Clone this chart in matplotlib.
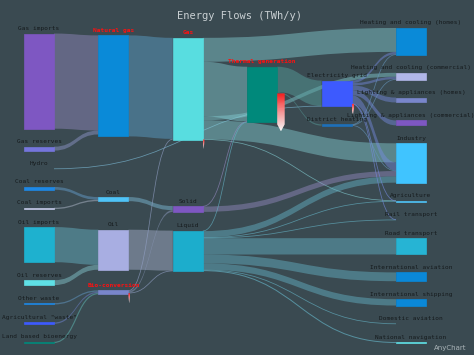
import numpy as np
import matplotlib.pyplot as plt
import matplotlib.colors as mcolors
from matplotlib.path import Path
from matplotlib.patches import PathPatch, Rectangle, Polygon

# ---- data (TWh/y) ----
node_names = [
    "Gas imports", "Gas reserves", "Hydro", "Coal reserves", "Coal imports",
    "Oil imports", "Oil reserves", "Other waste", 'Agricultural "waste"',
    "Land based bioenergy",
    "Natural gas", "Coal", "Oil", "Bio-conversion",
    "Gas", "Solid", "Liquid",
    "Thermal generation",
    "Electricity grid", "District heating",
    "Heating and cooling (homes)", "Heating and cooling (commercial)",
    "Lighting & appliances (homes)", "Lighting & appliances (commercial)",
    "Industry", "Agriculture", "Rail transport", "Road transport",
    "International aviation", "International shipping",
    "Domestic aviation", "National navigation",
]
node_colors = [
    "#7e57c2", "#7575dc", "#4fc3f7", "#1e88e5", "#c5cae9",
    "#1eb1cf", "#5fe0e6", "#1e88e5", "#3d5afe",
    "#00897b",
    "#0a8ad8", "#4fc3f7", "#a8aee2", "#7986cb",
    "#58dde0", "#7e57c2", "#1cadcc",
    "#00897b",
    "#3d5afe", "#1e6fb8",
    "#0a8ad8", "#b0b6e8",
    "#7986cb", "#7e57c2",
    "#40c4ff", "#4fc3f7", "#00897b", "#26b4d4",
    "#0a88d8", "#0a88d8",
    "#3d5afe", "#5fe0e6",
]
red_labels = ["Natural gas", "Gas", "Thermal generation", "Bio-conversion"]

flow_from = [
    "Gas imports", "Gas reserves", "Coal reserves", "Coal imports",
    "Oil imports", "Oil reserves", "Other waste", 'Agricultural "waste"',
    "Land based bioenergy", "Hydro",
    "Natural gas", "Coal", "Oil",
    "Bio-conversion", "Bio-conversion", "Bio-conversion",
    "Gas", "Gas", "Gas", "Gas", "Gas",
    "Solid", "Solid",
    "Liquid", "Liquid", "Liquid", "Liquid", "Liquid", "Liquid", "Liquid",
    "Liquid", "Liquid",
    "Thermal generation", "Thermal generation",
    "Electricity grid", "Electricity grid", "Electricity grid",
    "Electricity grid", "Electricity grid", "Electricity grid",
    "Electricity grid",
    "District heating", "District heating", "District heating",
]
flow_to = [
    "Natural gas", "Natural gas", "Coal", "Coal",
    "Oil", "Oil", "Bio-conversion", "Bio-conversion",
    "Bio-conversion", "Electricity grid",
    "Gas", "Solid", "Liquid",
    "Gas", "Solid", "Liquid",
    "Heating and cooling (homes)", "Thermal generation",
    "Heating and cooling (commercial)", "Industry", "Agriculture",
    "Thermal generation", "Industry",
    "Thermal generation", "Industry", "Agriculture", "Rail transport",
    "Road transport", "International aviation", "International shipping",
    "Domestic aviation", "National navigation",
    "Electricity grid", "District heating",
    "Heating and cooling (homes)", "Heating and cooling (commercial)",
    "Lighting & appliances (homes)", "Lighting & appliances (commercial)",
    "Industry", "Agriculture", "Rail transport",
    "Heating and cooling (homes)", "Heating and cooling (commercial)",
    "Industry",
]
flow_value = [
    975, 40, 28, 14,
    360, 50, 14, 14,
    12, 4,
    1035, 42, 410,
    7, 18, 5,
    245, 560, 40, 195, 2,
    5, 55,
    5, 64, 5, 4, 167, 90, 65, 5, 10,
    260, 13,
    25, 25, 50, 50, 85, 2, 2,
    5, 4, 4,
]
dropoff_node = ["Bio-conversion", "Gas", "Thermal generation", "Electricity grid"]
dropoff_value = [10, 5, 297, 25]

# ---- geometry (pixels of the 474x355 output) ----
BG = "#3a4a51"
W, H = 474, 355
COL_LEFT, COL_STEP, NODE_W = 24, 74.4, 30
TOP, SPAN, PAD = 28, 315, 18
LEFT_WEIGHT = 2.2   # incoming links pull harder than outgoing ones


def mix(c, other="#b0bec5", t=0.5):
    a = np.array(mcolors.to_rgb(c))
    b = np.array(mcolors.to_rgb(other))
    return tuple(a * (1 - t) + b * t)


color = dict(zip(node_names, node_colors))
links = list(zip(flow_from, flow_to, flow_value))
drops = dict(zip(dropoff_node, dropoff_value))

out_links = {n: [l for l in links if l[0] == n] for n in node_names}
in_links = {n: [l for l in links if l[1] == n] for n in node_names}

# columns: longest path from the sources, sinks pushed to the right
col = {}


def depth(n):
    if n not in col:
        col[n] = 0 if not in_links[n] else max(depth(l[0]) for l in in_links[n]) + 1
    return col[n]


for n in node_names:
    depth(n)
ncol = max(col.values()) + 1
for n in node_names:
    if not out_links[n] and n not in drops:
        col[n] = ncol - 1

value = {}
for n in node_names:
    vin = sum(l[2] for l in in_links[n])
    vout = sum(l[2] for l in out_links[n]) + drops.get(n, 0)
    value[n] = max(vin, vout)

columns = [[n for n in node_names if col[n] == c] for c in range(ncol)]
ky = min((SPAN - (len(c) - 1) * PAD) / sum(value[n] for n in c) for c in columns)
pad_v = PAD / ky
span_v = SPAN / ky

# ---- layout: nodes move to where their links run level, then collisions ----
y0 = {}
for c in columns:
    yy = 0
    for n in c:
        y0[n] = yy
        yy += value[n] + pad_v


def center(n):
    return y0[n] + value[n] / 2


def offsets():
    so, to = {}, {}
    for n in node_names:
        yy = 0
        for l in out_links[n]:          # outgoing: data order
            so[l] = yy
            yy += l[2]
        yy = 0
        for l in sorted(in_links[n], key=lambda l: center(l[0])):
            to[l] = yy
            yy += l[2]
    return so, to


def resolve(c):
    yy = 0
    for n in c:
        d = yy - y0[n]
        if d > 0:
            y0[n] += d
        yy = y0[n] + value[n] + pad_v
    d = yy - pad_v - span_v
    if d > 0:
        y0[c[-1]] -= d
        yy = y0[c[-1]]
        for n in reversed(c[:-1]):
            d = y0[n] + value[n] + pad_v - yy
            if d > 0:
                y0[n] -= d
            yy = y0[n]


for _ in range(40):
    for c in columns:
        so, to = offsets()
        for n in c:
            acc = wsum = 0.0
            for l in in_links[n]:
                acc += (y0[l[0]] + so[l] - to[l]) * l[2] * LEFT_WEIGHT
                wsum += l[2] * LEFT_WEIGHT
            for l in out_links[n]:
                acc += (y0[l[1]] + to[l] - so[l]) * l[2]
                wsum += l[2]
            if wsum > 0:
                y0[n] = acc / wsum
        resolve(c)

src_pos, dst_pos = offsets()

# ---- drawing ----
fig = plt.figure(figsize=(W / 100, H / 100), dpi=100, facecolor=BG)
ax = fig.add_axes([0, 0, 1, 1])
ax.set_facecolor(BG)
ax.axis("off")

nw = NODE_W / COL_STEP
C4, LT, MV, CL = Path.CURVE4, Path.LINETO, Path.MOVETO, Path.CLOSEPOLY

for l in links:
    s, t, v = l
    xs, xt = col[s] + nw, col[t]
    xm = (xs + xt) / 2
    s0, t0 = y0[s] + src_pos[l], y0[t] + dst_pos[l]
    fc = mix(color[s])
    if v * ky >= 1.2:
        verts = [(xs, s0), (xm, s0), (xm, t0), (xt, t0), (xt, t0 + v),
                 (xm, t0 + v), (xm, s0 + v), (xs, s0 + v), (xs, s0)]
        codes = [MV, C4, C4, C4, LT, C4, C4, C4, CL]
        ax.add_patch(PathPatch(Path(verts, codes), fc=fc, ec="none", alpha=0.45, zorder=1))
    else:
        sc, tc = s0 + v / 2, t0 + v / 2
        verts = [(xs, sc), (xm, sc), (xm, tc), (xt, tc)]
        ax.add_patch(PathPatch(Path(verts, [MV, C4, C4, C4]), fc="none", ec=fc,
                               lw=max(v * ky * 0.72, 0.55), alpha=0.65, zorder=1))

for n in node_names:
    x = col[n]
    ax.add_patch(Rectangle((x, y0[n]), nw, value[n], fc=color[n], ec=color[n],
                           lw=0.5 if value[n] * ky > 0.6 else 0, zorder=3))
    red = n in red_labels
    ax.text(x + nw / 2, y0[n] - 2.5 / ky, n, ha="center", va="bottom",
            fontsize=4.4, family="DejaVu Sans Mono",
            color="#ff1010" if red else "#151a1c",
            fontweight="bold" if red else "normal", zorder=5)

# dropoffs: red-to-white tongues on the right of a node
grad = mcolors.LinearSegmentedColormap.from_list("drop", ["#ff1a1a", "#ff9a9a", "#ffffff"])
for n in drops:
    x1 = col[n] + nw
    d0 = y0[n] + sum(l[2] for l in out_links[n])
    d1 = d0 + drops[n]
    w = max(min(drops[n] * ky, 7.5), 1.6) / COL_STEP
    poly = Polygon([(x1, d0), (x1 + w, d0), (x1 + w, d1 + 2 / ky),
                    (x1 + w / 2, d1 + 9 / ky), (x1, d1 + 2 / ky)],
                   closed=True, fc="none", ec="none", zorder=4)
    ax.add_patch(poly)
    im = ax.imshow(np.linspace(0, 1, 64).reshape(-1, 1), cmap=grad, aspect="auto",
                   extent=(x1, x1 + w, d1 + 9 / ky, d0), zorder=4, alpha=0.95)
    im.set_clip_path(poly)

ax.set_xlim(-COL_LEFT / COL_STEP, (W - COL_LEFT) / COL_STEP)
ax.set_ylim((H - TOP) / ky, -TOP / ky)

fig.text(0.505, 1 - 16 / H, "Energy Flows (TWh/y)", ha="center", va="center",
         fontsize=7.5, family="DejaVu Sans Mono", color="#c9d0d3")
fig.text(1 - 8 / W, 7 / H, "AnyChart", ha="right", va="center",
         fontsize=5, color="#a9b3b7")

fig.savefig("out.png", dpi=100, facecolor=BG)
